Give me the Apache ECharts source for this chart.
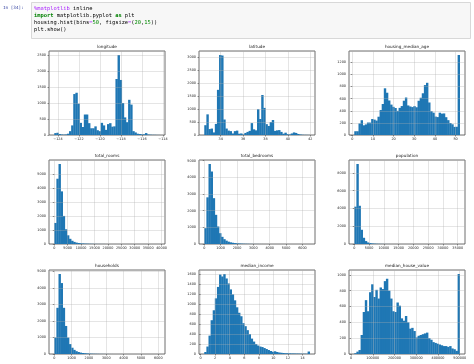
<!DOCTYPE html>
<html>
<head>
<meta charset="utf-8">
<script src="https://cdn.jsdelivr.net/npm/echarts@6/dist/echarts.min.js"></script>
<style>
html, body { margin: 0; padding: 0; background: #fff; }
#chart { width: 474px; height: 364px; }
</style>
</head>
<body>
<div id="chart"></div>
<script>
// histogram data, 50 bins each, bins span [min, max] of the column
const lonRange = [-124.35, -114.31];
const lonCounts = [60, 70, 30, 15, 10, 15, 40, 120, 300, 1280, 1320, 980, 380, 250, 640, 640, 370, 210, 210, 270,
  150, 120, 380, 300, 160, 340, 370, 260, 270, 1750, 2500, 1720, 1000, 550, 400, 1100, 950, 120, 80, 40,
  30, 20, 20, 60, 15, 10, 5, 5, 3, 2];
const lonTicks = [-124, -122, -120, -118, -116, -114];

const latRange = [32.54, 41.95];
const latCounts = [380, 800, 230, 250, 100, 430, 1750, 3100, 3080, 600, 250, 170, 150, 60, 150, 170, 50, 60, 20, 80,
  120, 160, 460, 220, 180, 1000, 620, 1550, 1050, 420, 350, 500, 580, 160, 180, 190, 120, 50, 90, 30,
  20, 60, 100, 80, 40, 20, 10, 5, 5, 3];
const latTicks = [34, 36, 38, 40, 42];

const ageRange = [1, 52];
const ageCounts = [62, 62, 191, 244, 160, 175, 206, 205, 264, 254, 238, 302, 412, 512, 771, 698, 570, 502, 465, 446,
  399, 448, 478, 566, 619, 488, 471, 461, 476, 458, 565, 615, 689, 824, 862, 537, 394, 369, 304, 296,
  368, 353, 356, 294, 245, 198, 177, 134, 136, 1321];
const ageTicks = [0, 10, 20, 30, 40, 50];

const roomsRange = [2, 39320];
const roomsCounts = [1500, 4650, 5700, 3750, 2000, 1050, 620, 370, 230, 150, 100, 70, 50, 35, 25, 20, 15, 11, 8, 6,
  5, 4, 3, 3, 2, 2, 2, 1, 1, 1, 1, 1, 0, 1, 0, 0, 0, 0, 0, 0, 0, 0, 0, 0, 0, 0, 0, 0, 0, 1];
const roomsTicks = [0, 5000, 10000, 15000, 20000, 25000, 30000, 35000, 40000];

const bedsRange = [1, 6445];
const bedsCounts = [950, 2800, 4800, 4350, 2750, 1750, 1050, 650, 430, 290, 200, 140, 100, 75, 55, 40, 30, 22, 16, 12,
  9, 7, 5, 4, 3, 3, 2, 2, 1, 1, 1, 1, 1, 0, 1, 0, 0, 0, 0, 0, 0, 0, 0, 0, 0, 0, 0, 0, 0, 1];
const bedsTicks = [0, 1000, 2000, 3000, 4000, 5000, 6000];

const popRange = [3, 35682];
const popCounts = [4200, 9000, 4300, 1600, 700, 330, 170, 100, 60, 40, 25, 18, 12, 9, 6, 5, 4, 3, 3, 2,
  2, 1, 1, 1, 1, 1, 0, 1, 0, 0, 0, 0, 0, 0, 0, 0, 0, 0, 0, 0, 0, 0, 0, 0, 0, 0, 0, 0, 0, 1];
const popTicks = [0, 5000, 10000, 15000, 20000, 25000, 30000, 35000];

const hhRange = [1, 6082];
const hhCounts = [1000, 2800, 4850, 4300, 2800, 1700, 1000, 600, 380, 250, 170, 120, 85, 60, 45, 32, 24, 18, 13, 10,
  8, 6, 5, 4, 3, 3, 2, 2, 1, 1, 1, 1, 1, 0, 1, 0, 0, 0, 0, 0, 0, 0, 0, 0, 0, 0, 0, 0, 0, 1];
const hhTicks = [0, 1000, 2000, 3000, 4000, 5000, 6000];

const incomeRange = [0.4999, 15.0001];
const incomeCounts = [40, 150, 370, 680, 880, 1120, 1350, 1600, 1560, 1610, 1520, 1420, 1300, 1200, 1080, 940, 830, 760, 620, 560,
  480, 400, 310, 250, 200, 170, 150, 140, 120, 100, 80, 60, 45, 55, 40, 30, 25, 20, 15, 15,
  12, 10, 10, 8, 8, 6, 5, 5, 4, 50];
const incomeTicks = [0, 2, 4, 6, 8, 10, 12, 14];

const valueRange = [14999, 500001];
const valueCounts = [10, 30, 50, 240, 530, 680, 540, 780, 880, 720, 810, 700, 840, 820, 920, 950, 800, 700, 540, 530,
  650, 610, 450, 420, 480, 400, 320, 330, 290, 210, 230, 240, 250, 260, 270, 200, 180, 150, 140, 130,
  120, 110, 100, 100, 90, 100, 70, 60, 40, 1010];
const valueTicks = [0, 100000, 200000, 300000, 400000, 500000];

const panels = [
  { title: 'longitude', range: lonRange, counts: lonCounts, xticks: lonTicks, ystep: 500 },
  { title: 'latitude', range: latRange, counts: latCounts, xticks: latTicks, ystep: 500 },
  { title: 'housing_median_age', range: ageRange, counts: ageCounts, xticks: ageTicks, ystep: 200 },
  { title: 'total_rooms', range: roomsRange, counts: roomsCounts, xticks: roomsTicks, ystep: 1000 },
  { title: 'total_bedrooms', range: bedsRange, counts: bedsCounts, xticks: bedsTicks, ystep: 1000 },
  { title: 'population', range: popRange, counts: popCounts, xticks: popTicks, ystep: 2000 },
  { title: 'households', range: hhRange, counts: hhCounts, xticks: hhTicks, ystep: 1000 },
  { title: 'median_income', range: incomeRange, counts: incomeCounts, xticks: incomeTicks, ystep: 200 },
  { title: 'median_house_value', range: valueRange, counts: valueCounts, xticks: valueTicks, ystep: 200 }
];

const colLeft = [49, 199, 349];
const rowTop = [51, 160, 270];
const W = 116, H = 84;
const FONT = 'DejaVu Sans';
const MONO = 'DejaVu Sans Mono';

function renderBin(params, api) {
  const p0 = api.coord([api.value(0), api.value(2)]);
  const p1 = api.coord([api.value(1), 0]);
  return {
    type: 'rect',
    shape: { x: p0[0], y: p0[1], width: p1[0] - p0[0] + 0.3, height: p1[1] - p0[1] },
    style: { fill: '#1f77b4' }
  };
}

// matplotlib style: plain integers, unicode minus
const plain = v => String(v).replace('-', '\u2212');

const grids = [], xAxes = [], yAxes = [], series = [], graphics = [];

panels.forEach((p, i) => {
  const left = colLeft[i % 3], top = rowTop[Math.floor(i / 3)];
  const span = p.range[1] - p.range[0];
  const bw = span / p.counts.length;
  const ymax = Math.max(...p.counts) * 1.05;

  grids.push({ left, top, width: W, height: H, show: true, backgroundColor: '#fff',
    borderColor: '#4a4a4a', borderWidth: 0.8 });

  xAxes.push({
    gridIndex: i, type: 'value', z: 3,
    min: p.range[0] - 0.05 * span, max: p.range[1] + 0.05 * span,
    axisLine: { show: false },
    axisTick: { show: true, length: 1.5, customValues: p.xticks, lineStyle: { color: '#4a4a4a', width: 0.6 } },
    axisLabel: { customValues: p.xticks, fontSize: 3.4, fontFamily: FONT, color: '#222', margin: 2.3, formatter: plain },
    splitLine: { show: true, lineStyle: { color: 'rgba(176,176,176,0.55)', width: 0.6 } }
  });

  yAxes.push({
    gridIndex: i, type: 'value', z: 3,
    min: 0, max: ymax, interval: p.ystep,
    axisLine: { show: false },
    axisTick: { show: true, length: 1.5, lineStyle: { color: '#4a4a4a', width: 0.6 } },
    axisLabel: { fontSize: 3.4, fontFamily: FONT, color: '#222', margin: 3, showMaxLabel: false, formatter: plain },
    splitLine: { show: true, lineStyle: { color: 'rgba(176,176,176,0.55)', width: 0.6 } }
  });

  series.push({
    type: 'custom', xAxisIndex: i, yAxisIndex: i, z: 1,
    renderItem: renderBin,
    encode: { x: [0, 1], y: 2 },
    data: p.counts.map((c, k) => [p.range[0] + k * bw, p.range[0] + (k + 1) * bw, c])
  });

  graphics.push({
    type: 'text', x: left + W / 2, y: top - 4,
    style: { text: p.title, fontSize: 4.2, fontFamily: FONT, fill: '#222',
      align: 'center', verticalAlign: 'middle', textAlign: 'center', textVerticalAlign: 'middle' }
  });
});

// notebook input cell
const codeLines = [
  '{mg|%matplotlib} inline',
  '{kw|import} matplotlib.pyplot {kw|as} plt',
  'housing.hist(bins{op|=}{nm|50}, figsize{op|=}({nm|20},{nm|15}))',
  'plt.show()'
];
const codeRich = {
  mg: { fill: '#AA22FF', fontFamily: MONO, fontSize: 5.4 },
  kw: { fill: '#008000', fontWeight: 'bold', fontFamily: MONO, fontSize: 5.4 },
  op: { fill: '#AA22FF', fontFamily: MONO, fontSize: 5.4 },
  nm: { fill: '#008800', fontFamily: MONO, fontSize: 5.4 }
};

graphics.push({
  type: 'rect', shape: { x: 31.5, y: 2.5, width: 439, height: 36 },
  style: { fill: '#f7f7f7', stroke: '#cfcfcf', lineWidth: 0.8 }, z: -1
});
graphics.push({
  type: 'text', x: 3, y: 8.3,
  style: { text: 'In [34]:', fontSize: 4.3, fontFamily: MONO, fill: '#303F9F',
    verticalAlign: 'middle', textVerticalAlign: 'middle' }
});
codeLines.forEach((line, k) => {
  graphics.push({
    type: 'text', x: 34, y: 8.3 + k * 7.2,
    style: { text: line, rich: codeRich, fontSize: 5.4, fontFamily: MONO, fill: '#000',
      verticalAlign: 'middle', textVerticalAlign: 'middle' }
  });
});

const chart = echarts.init(document.getElementById('chart'));
chart.setOption({
  animation: false,
  backgroundColor: '#fff',
  grid: grids,
  xAxis: xAxes,
  yAxis: yAxes,
  series,
  graphic: graphics
});
</script>
</body>
</html>
